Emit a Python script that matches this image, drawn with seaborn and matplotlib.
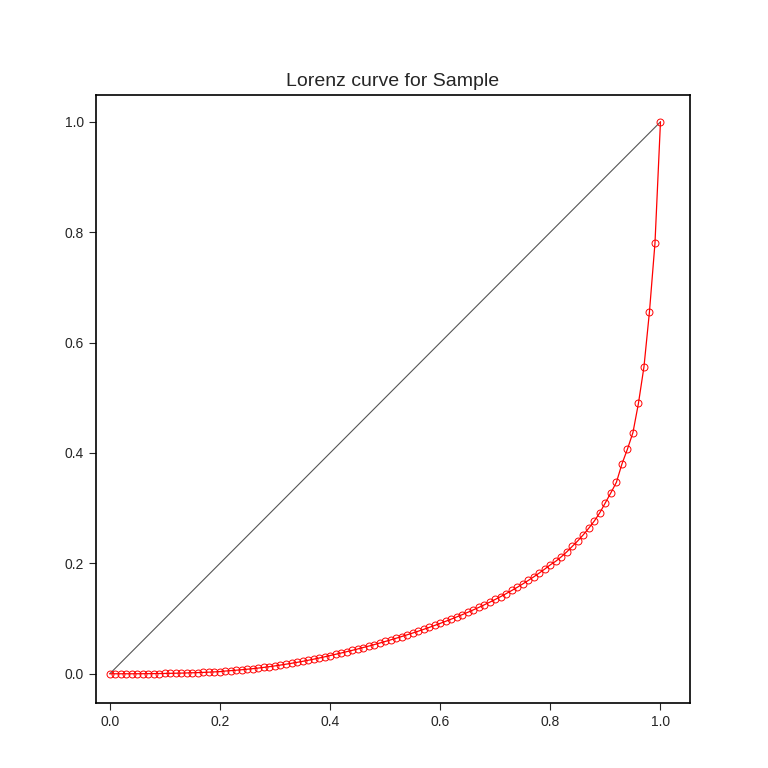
import numpy as np
import matplotlib
matplotlib.use("Agg")
from matplotlib import pyplot as plt
import seaborn as sns

sns.set_style("ticks")
plt.rcParams['font.family'] = ['Liberation Sans', 'DejaVu Sans']

# Cumulative share of population (x) and of total (y)
share_pop = [i / 100 for i in range(101)]
share_total = [
    0.0, 0.0, 0.0, 0.0, 0.0, 0.0, 0.0001, 0.0002, 0.0003, 0.0004, 0.0006,
    .0008, .001, .0012, .0015, .0018, .0021, .0025, .0029, .0034, .0039,
    .005, .0057, .0065, .0074, .0083, .0093, .0104, .0116, .0129, .0143,
    .0158, .0174, .019, .0207, .0225, .0244, .0264, .0285, .0307, .033,
    .0353, .0376, .04, .0424, .0449, .0475, .0501, .0528, .0556, .0585,
    .0614, .0644, .0675, .0706, .0738, .0771, .0805, .084, .0876, .0913,
    .0951, .099, .103, .1071, .1113, .1157, .1202, .1249, .1297, .1347,
    .1399, .1453, .1509, .1567, .1628, .1691, .1757, .1826, .1898, .1974,
    .204, .212, .221, .231, .241, .252, .264, .277, .292, .31,
    .328, .347, .38, .407, .437, .49, .556, .656, .78, 1.0,
]
equality = [0.0, 1.0]
ticks = [0.0, 0.2, 0.4, 0.6, 0.8, 1.0]

fig = plt.figure(figsize=(7.68, 7.68), dpi=100)
ax = fig.add_axes([0.125, 0.0846, 0.773, 0.792])

sns.lineplot(x=equality, y=equality, color='#555555', linewidth=0.8, ax=ax)
sns.lineplot(x=share_pop, y=share_total, color='red', linewidth=0.9, ax=ax,
             marker='o', markersize=5, markerfacecolor='none',
             markeredgecolor='red', markeredgewidth=0.7)

ax.set_xlim(-0.025, 1.053)
ax.set_ylim(-0.053, 1.049)
ax.set_xticks(ticks)
ax.set_yticks(ticks)
ax.set_xticklabels([f"{t:.1f}" for t in ticks])
ax.set_yticklabels([f"{t:.1f}" for t in ticks])
ax.tick_params(labelsize=10, direction='out', length=5)
for s in ax.spines.values():
    s.set_visible(True)
    s.set_linewidth(1.2)
    s.set_color('black')
ax.set_title("Lorenz curve for Sample", fontsize=14)

fig.savefig("out.png", dpi=100)
